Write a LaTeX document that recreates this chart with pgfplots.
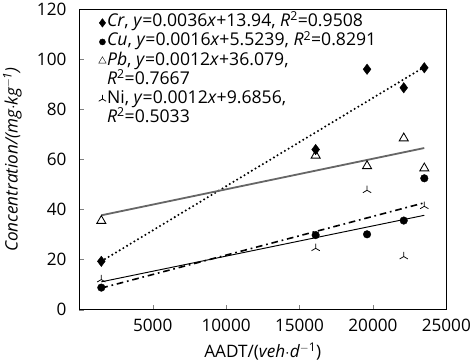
\documentclass[border=0pt]{standalone}
\usepackage{pgfplots}
\pgfplotsset{compat=1.18}
\usetikzlibrary{plotmarks}
\usepackage{fontspec}
\setmainfont{Open Sans}
\newcommand{\lgfont}{\fontsize{18.5}{20}\selectfont}
\newcommand{\tkfont}{\fontsize{18}{20}\selectfont}
\begin{document}
\begin{tikzpicture}
\begin{axis}[
  scale only axis, width=384bp, height=314bp,
  xmin=0, xmax=25000, ymin=0, ymax=120,
  xtick={5000,10000,...,25000}, ytick={0,20,...,120},
  scaled x ticks=false,
  xticklabel style={/pgf/number format/1000 sep={}, yshift=-6bp},
  yticklabel style={xshift=-10bp},
  /pgf/number format/assume math mode=true,
  tick label style={font=\tkfont},
  xtick pos=bottom, ytick pos=left, tick align=inside,
  major tick length=5bp,
  axis line style={line width=0.8pt},
  xlabel={AADT/(\textit{veh}$\cdot$\textit{d}\textsuperscript{$-$1})},
  ylabel={\textit{Concentration/(mg$\cdot$kg\textsuperscript{$-$1})}},
  label style={font=\tkfont},
  xlabel style={yshift=-5bp},
  ylabel style={yshift=9bp},
  legend style={draw=none, fill=none, at={(0.04,0.99)}, anchor=north west,
    font=\lgfont, nodes={text height=12pt, text depth=3.5pt, inner sep=1pt}, row sep=2.5pt,
    legend cell align=left},
  legend image code/.code={\draw[#1] plot coordinates {(0.2cm,0cm)};},
]
% regression lines
\addplot[forget plot, black, line width=2.4pt, line cap=round, dash pattern=on 0pt off 4.5pt] coordinates {(1500,19.3) (23500,97.0)};
\addplot[forget plot, black!60, line width=1.9pt] coordinates {(1500,37.7) (23500,64.6)};
\addplot[forget plot, black, line width=1pt] coordinates {(1500,11.1) (23500,37.7)};
\addplot[forget plot, black, line width=1.7pt, dash pattern=on 7pt off 4pt on 1.8pt off 4pt] coordinates {(1500,8.6) (23500,42.7)};
% data
\addplot[forget plot, only marks, mark=diamond*, mark size=5.5pt, black] coordinates {
(1500,19.3) (16100,64.0) (19600,96.1) (22100,88.7) (23500,96.7)};
\addplot[forget plot, only marks, mark=*, mark size=4pt, black] coordinates {
(1500,8.8) (16100,29.8) (19600,30.1) (22100,35.6) (23500,52.5)};
\addplot[forget plot, only marks, mark=triangle, mark size=5.5pt, black, line width=0.9pt] coordinates {
(1500,35.5) (16100,61.6) (19600,57.4) (22100,68.5) (23500,56.5)};
\addplot[forget plot, only marks, mark=Mercedes star, mark size=5pt, black, thick] coordinates {
(1500,12.0) (16100,24.5) (19600,47.7) (22100,21.2) (23500,41.3)};
% legend
\addlegendimage{only marks, mark=diamond*, mark size=4.5pt, black}
\addlegendentry{\textit{Cr}, \textit{y}=0.0036\textit{x}+13.94, \textit{R}\textsuperscript{2}=0.9508}
\addlegendimage{only marks, mark=*, mark size=3.2pt, black}
\addlegendentry{\textit{Cu}, \textit{y}=0.0016\textit{x}+5.5239, \textit{R}\textsuperscript{2}=0.8291}
\addlegendimage{only marks, mark=triangle, mark size=4.5pt, black}
\addlegendentry{\textit{Pb}, \textit{y}=0.0012\textit{x}+36.079,}
\addlegendimage{empty legend}
\addlegendentry{\textit{R}\textsuperscript{2}=0.7667}
\addlegendimage{only marks, mark=Mercedes star, mark size=4.5pt, black, thick}
\addlegendentry{Ni, \textit{y}=0.0012\textit{x}+9.6856,}
\addlegendimage{empty legend}
\addlegendentry{\textit{R}\textsuperscript{2}=0.5033}
\end{axis}
\end{tikzpicture}
\end{document}
